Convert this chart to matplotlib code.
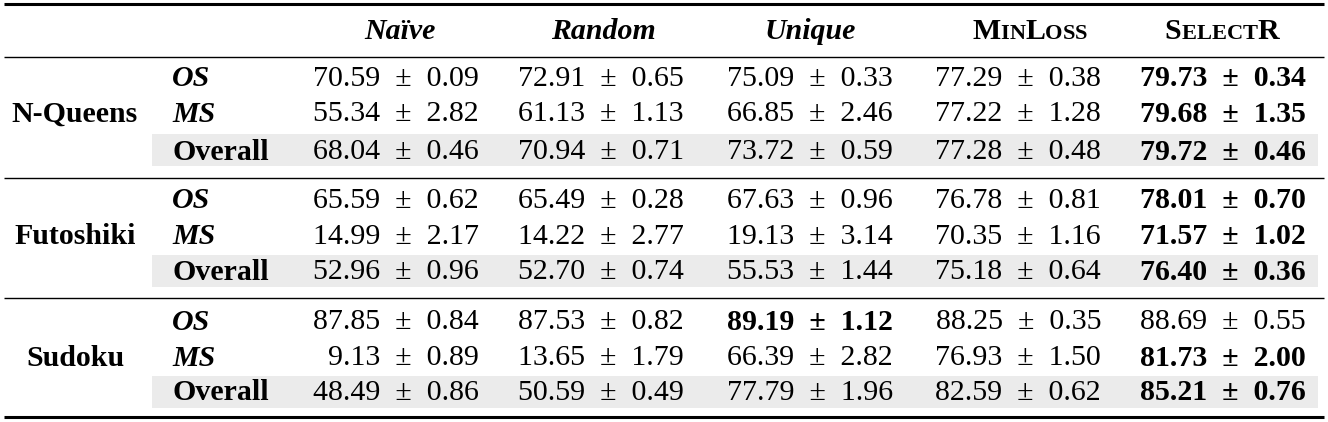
import matplotlib
matplotlib.use("Agg")
import matplotlib.pyplot as plt
from matplotlib.patches import Rectangle

plt.rcParams['font.family'] = ['Liberation Serif', 'DejaVu Serif']

groups = ["N-Queens", "Futoshiki", "Sudoku"]
subrows = ["OS", "MS", "Overall"]
methods = ["Naïve", "Random", "Unique", "MinLoss", "SelectR"]
means = [
    [[70.59, 72.91, 75.09, 77.29, 79.73], [55.34, 61.13, 66.85, 77.22, 79.68], [68.04, 70.94, 73.72, 77.28, 79.72]],
    [[65.59, 65.49, 67.63, 76.78, 78.01], [14.99, 14.22, 19.13, 70.35, 71.57], [52.96, 52.70, 55.53, 75.18, 76.40]],
    [[87.85, 87.53, 89.19, 88.25, 88.69], [9.13, 13.65, 66.39, 76.93, 81.73], [48.49, 50.59, 77.79, 82.59, 85.21]],
]
stds = [
    [[0.09, 0.65, 0.33, 0.38, 0.34], [2.82, 1.13, 2.46, 1.28, 1.35], [0.46, 0.71, 0.59, 0.48, 0.46]],
    [[0.62, 0.28, 0.96, 0.81, 0.70], [2.17, 2.77, 3.14, 1.16, 1.02], [0.96, 0.74, 1.44, 0.64, 0.36]],
    [[0.84, 0.82, 1.12, 0.35, 0.55], [0.89, 1.79, 2.82, 1.50, 2.00], [0.86, 0.49, 1.96, 0.62, 0.76]],
]
bold = [
    [[4], [4], [4]],
    [[4], [4], [4]],
    [[2], [4], [4]],
]

W, H = 1328, 422
fig = plt.figure(figsize=(W/100, H/100), dpi=100)
ax = fig.add_axes([0, 0, 1, 1])
ax.set_xlim(0, W); ax.set_ylim(H, 0); ax.axis('off')
FS = 21.5

col_right = [479, 684, 893, 1101, 1306]
head_cx = [400, 603, 810, 1030, 1222]
group_rows = [[79, 114, 152], [201, 237, 272], [322, 358, 393]]
shade = [(134, 166), (255, 287), (376, 408)]
rules = [(4, 2.2), (57, 1.0), (178, 1.0), (298, 1.0), (417, 2.2)]

for y0, y1 in shade:
    ax.add_patch(Rectangle((152, y0), 1318 - 152, y1 - y0, color='#ebebeb', lw=0, zorder=0))
for y, lw in rules:
    ax.plot([4, 1324], [y, y], color='black', lw=lw, solid_capstyle='butt')

fig.canvas.draw()
r = fig.canvas.get_renderer()

def smallcaps(word, cx, y):
    pieces = []
    for ch in word:
        if ch.isupper():
            pieces.append((ch, FS))
        else:
            pieces.append((ch.upper(), FS * 0.75))
    ts = [ax.text(0, y, c, fontsize=s, fontweight='bold', va='baseline') for c, s in pieces]
    widths = [t.get_window_extent(r).width for t in ts]
    x = cx - sum(widths) / 2
    for t, w in zip(ts, widths):
        t.set_x(x); x += w

head_y = 39
for i, m in enumerate(methods):
    if m in ("MinLoss", "SelectR"):
        smallcaps(m, head_cx[i], head_y)
    else:
        ax.text(head_cx[i], head_y, m, fontsize=FS, fontweight='bold', style='italic', ha='center', va='baseline')

for g, gname in enumerate(groups):
    rows = group_rows[g]
    ax.text(75, rows[1], gname, fontsize=FS, fontweight='bold', ha='center', va='center')
    for k, sname in enumerate(subrows):
        st = 'italic' if sname != "Overall" else 'normal'
        ax.text(172, rows[k], sname, fontsize=FS, fontweight='bold', style=st, ha='left', va='center')
        for j in range(5):
            s = f"{means[g][k][j]:.2f}\u2002±\u2002{stds[g][k][j]:.2f}"
            fw = 'bold' if j in bold[g][k] else 'normal'
            ax.text(col_right[j], rows[k], s, fontsize=FS, fontweight=fw, ha='right', va='center')

fig.savefig("out.png", dpi=100)
